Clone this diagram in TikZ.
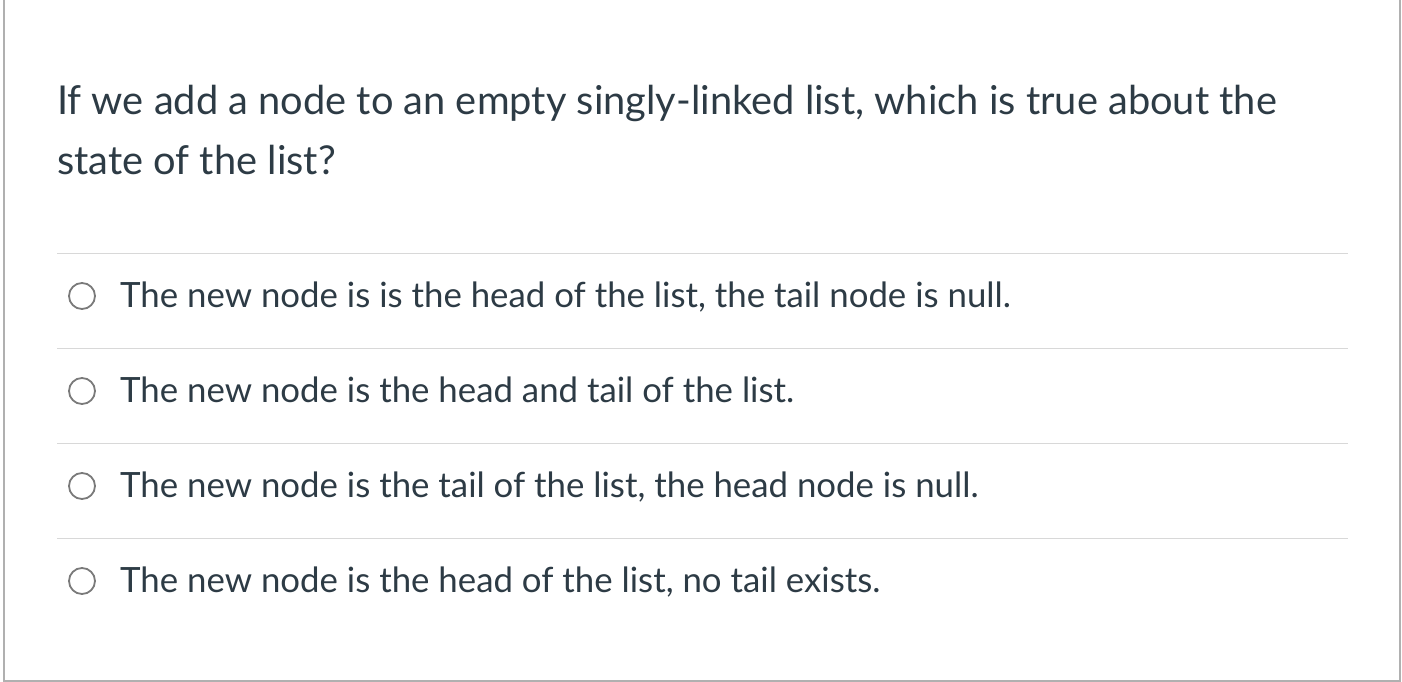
\documentclass[tikz,border=0pt]{standalone}
\usepackage{fontspec}
\setmainfont{Lato}
\definecolor{txt}{HTML}{2D3B45}
\definecolor{bord}{HTML}{B0B0B0}
\definecolor{sep}{HTML}{D8D8D8}
\definecolor{circ}{HTML}{7A7A7A}
\begin{document}
\begin{tikzpicture}[x=1pt,y=-1pt,
  q/.style={anchor=base west,inner sep=0pt,font=\fontsize{39.8}{44}\selectfont,text=txt},
  opt/.style={anchor=base west,inner sep=0pt,font=\fontsize{34.8}{40}\selectfont,text=txt},
  radio/.style={circle,draw=circ,line width=1.8pt,minimum size=26pt,inner sep=0pt}]
\useasboundingbox (0,0) rectangle (1402,682);
\draw[bord,line width=1.2pt] (4,-5) -- (4,681) -- (1400,681) -- (1400,-5);
\node[q] (q1) at (57,115) {If we add a node to an empty singly-linked list, which is true about the};
\node[q] (q2) at (57,174) {state of the list?};
\foreach \y in {253,348,443,538}{\draw[sep,line width=1pt] (57,\y) -- (1348,\y);}
\node[radio] (r1) at (82,296) {};
\node[opt] (o1) at (120,307) {The new node is is the head of the list, the tail node is null.};
\node[radio] (r2) at (82,391) {};
\node[opt] (o2) at (120,402) {The new node is the head and tail of the list.};
\node[radio] (r3) at (82,486) {};
\node[opt] (o3) at (120,497) {The new node is the tail of the list, the head node is null.};
\node[radio] (r4) at (82,581) {};
\node[opt] (o4) at (120,592) {The new node is the head of the list, no tail exists.};
\end{tikzpicture}
\end{document}
